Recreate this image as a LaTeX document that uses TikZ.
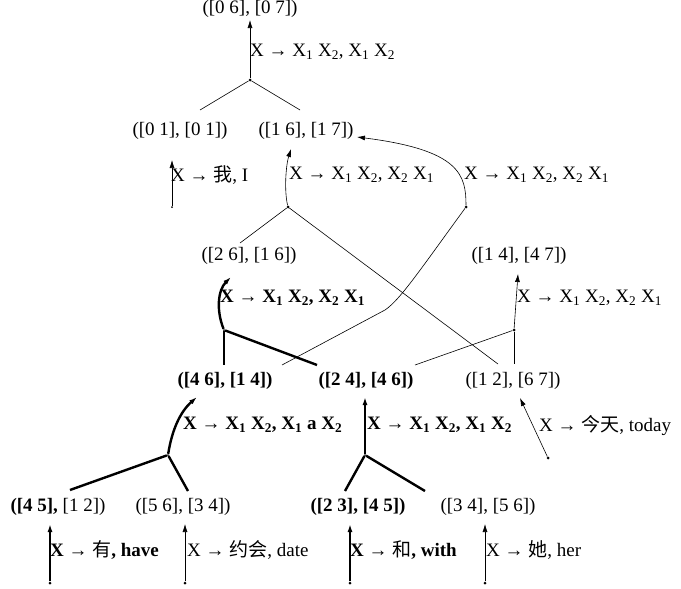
\documentclass[tikz,border=0pt]{standalone}
\usepackage{fontspec}
\setmainfont{Liberation Serif}
\newfontfamily\cjk{Noto Sans CJK SC}
\usetikzlibrary{arrows.meta}
\newcommand{\subA}{\textsubscript{1}}
\newcommand{\subB}{\textsubscript{2}}
\begin{document}
\begin{tikzpicture}[x=1pt,y=-1pt,
  every node/.style={font=\fontsize{19}{21}\selectfont, inner sep=1pt},
  bnode/.style={font=\fontsize{19}{21}\selectfont\bfseries},
  lab/.style={anchor=west},
  thin/.style={line width=0.6pt},
  thick/.style={line width=2.4pt},
  arr/.style={-{Latex[length=8pt,width=5pt]}},
  dot/.style={circle,fill,inner sep=0pt,minimum size=3pt}]
\useasboundingbox (0,0) rectangle (681,589);
% nodes
\node (n06) at (250,9) {([0 6], [0 7])};
\node (n01) at (180,131) {([0 1], [0 1])};
\node (n16) at (306,131) {([1 6], [1 7])};
\node (n26) at (249,256) {([2 6], [1 6])};
\node (n14) at (519,256) {([1 4], [4 7])};
\node[bnode] (n46) at (225,381) {([4 6], [1 4])};
\node[bnode] (n24) at (366,381) {([2 4], [4 6])};
\node (n12) at (513,381) {([1 2], [6 7])};
\node (n45) at (58,507) {\textbf{([4 5],} [1 2])};
\node (n56) at (183,507) {([5 6], [3 4])};
\node[bnode] (n23) at (358,507) {([2 3], [4 5])};
\node (n34) at (488,507) {([3 4], [5 6])};
% branch points
\node[dot] (b1) at (250,80) {};
\node[dot,minimum size=2pt] (b2) at (172,207) {};
\node[dot] (b3) at (288,207) {};
\node[dot] (b4) at (466,207) {};
\node[dot] (b5) at (514,330) {};
\node[dot,minimum size=2pt] (b6) at (224,330) {};
\node[dot,minimum size=2pt] (b7) at (168,455) {};
\node[dot,minimum size=2pt] (b8) at (365,455) {};
\node[dot] (b9) at (548,458) {};
\node[dot] (c1) at (50,583) {};
\node[dot] (c2) at (185,583) {};
\node[dot] (c3) at (350,583) {};
\node[dot] (c4) at (485,583) {};
% top
\draw[thin,arr] (b1) -- (250,20);
\node[lab] (l1) at (249,52) {X → X\subA{} X\subB, X\subA{} X\subB};
\draw[thin] (b1) -- (200,110);
\draw[thin] (b1) -- (300,110);
\draw[thin,arr] (b2) -- (172,160);
\node[lab] (l2) at (170,175) {X → {\cjk 我}, I};
\draw[thin,arr] (b3) .. controls (284,190) and (286,165) .. (291,149);
\node[lab] (l3) at (288,175) {X → X\subA{} X\subB, X\subB{} X\subA};
\draw[thin] (b3) -- (240,243);
\draw[thin] (b3) -- (498,364);
\draw[thin,arr] (b4) .. controls (466,175) and (460,150) .. (357,137);
\node[lab] (l4) at (463,175) {X → X\subA{} X\subB, X\subB{} X\subA};
\draw[thin] (b4) .. controls (420,270) and (400,300) .. (385,310) -- (282,365);
% level 3
\draw[thin,arr] (b5) -- (518,274);
\node[lab] (l5) at (516,298) {X → X\subA{} X\subB, X\subB{} X\subA};
\draw[thin] (b5) -- (514,364);
\draw[thin] (b5) -- (415,365);
\draw[thick,arr] (b6) .. controls (216,310) and (218,290) .. (231,277);
\node[lab,bnode] (l6) at (219,298) {X → X\subA{} X\subB, X\subB{} X\subA};
\draw[thick] (b6) -- (224,365);
\draw[thick] (b6) -- (317,365);
% level 4
\draw[thick,arr] (b7) .. controls (172,430) and (180,412) .. (197,397);
\node[lab,bnode] (l7) at (182,425) {X → X\subA{} X\subB, X\subA{} a X\subB};
\draw[thick] (b7) -- (70,490);
\draw[thick] (b7) -- (188,491);
\draw[thick,arr] (b8) -- (365,397);
\node[lab,bnode] (l8) at (366,425) {X → X\subA{} X\subB, X\subA{} X\subB};
\draw[thick] (b8) -- (345,491);
\draw[thick] (b8) -- (425,491);
\draw[thin,arr] (b9) -- (520,398);
\node[lab] (l9) at (538,426) {X → {\cjk 今天}, today};
% leaves
\draw[thick,arr] (c1) -- (50,524);
\node[lab] (l10) at (49,550) {\textbf{X} → {\cjk 有}\textbf{, have}};
\draw[thin,arr] (c2) -- (185,524);
\node[lab] (l11) at (186,550) {X → {\cjk 约会}, date};
\draw[thick,arr] (c3) -- (350,524);
\node[lab] (l12) at (349,550) {\textbf{X} → {\cjk 和}\textbf{, with}};
\draw[thin,arr] (c4) -- (485,524);
\node[lab] (l13) at (485,550) {X → {\cjk 她}, her};
\end{tikzpicture}
\end{document}
